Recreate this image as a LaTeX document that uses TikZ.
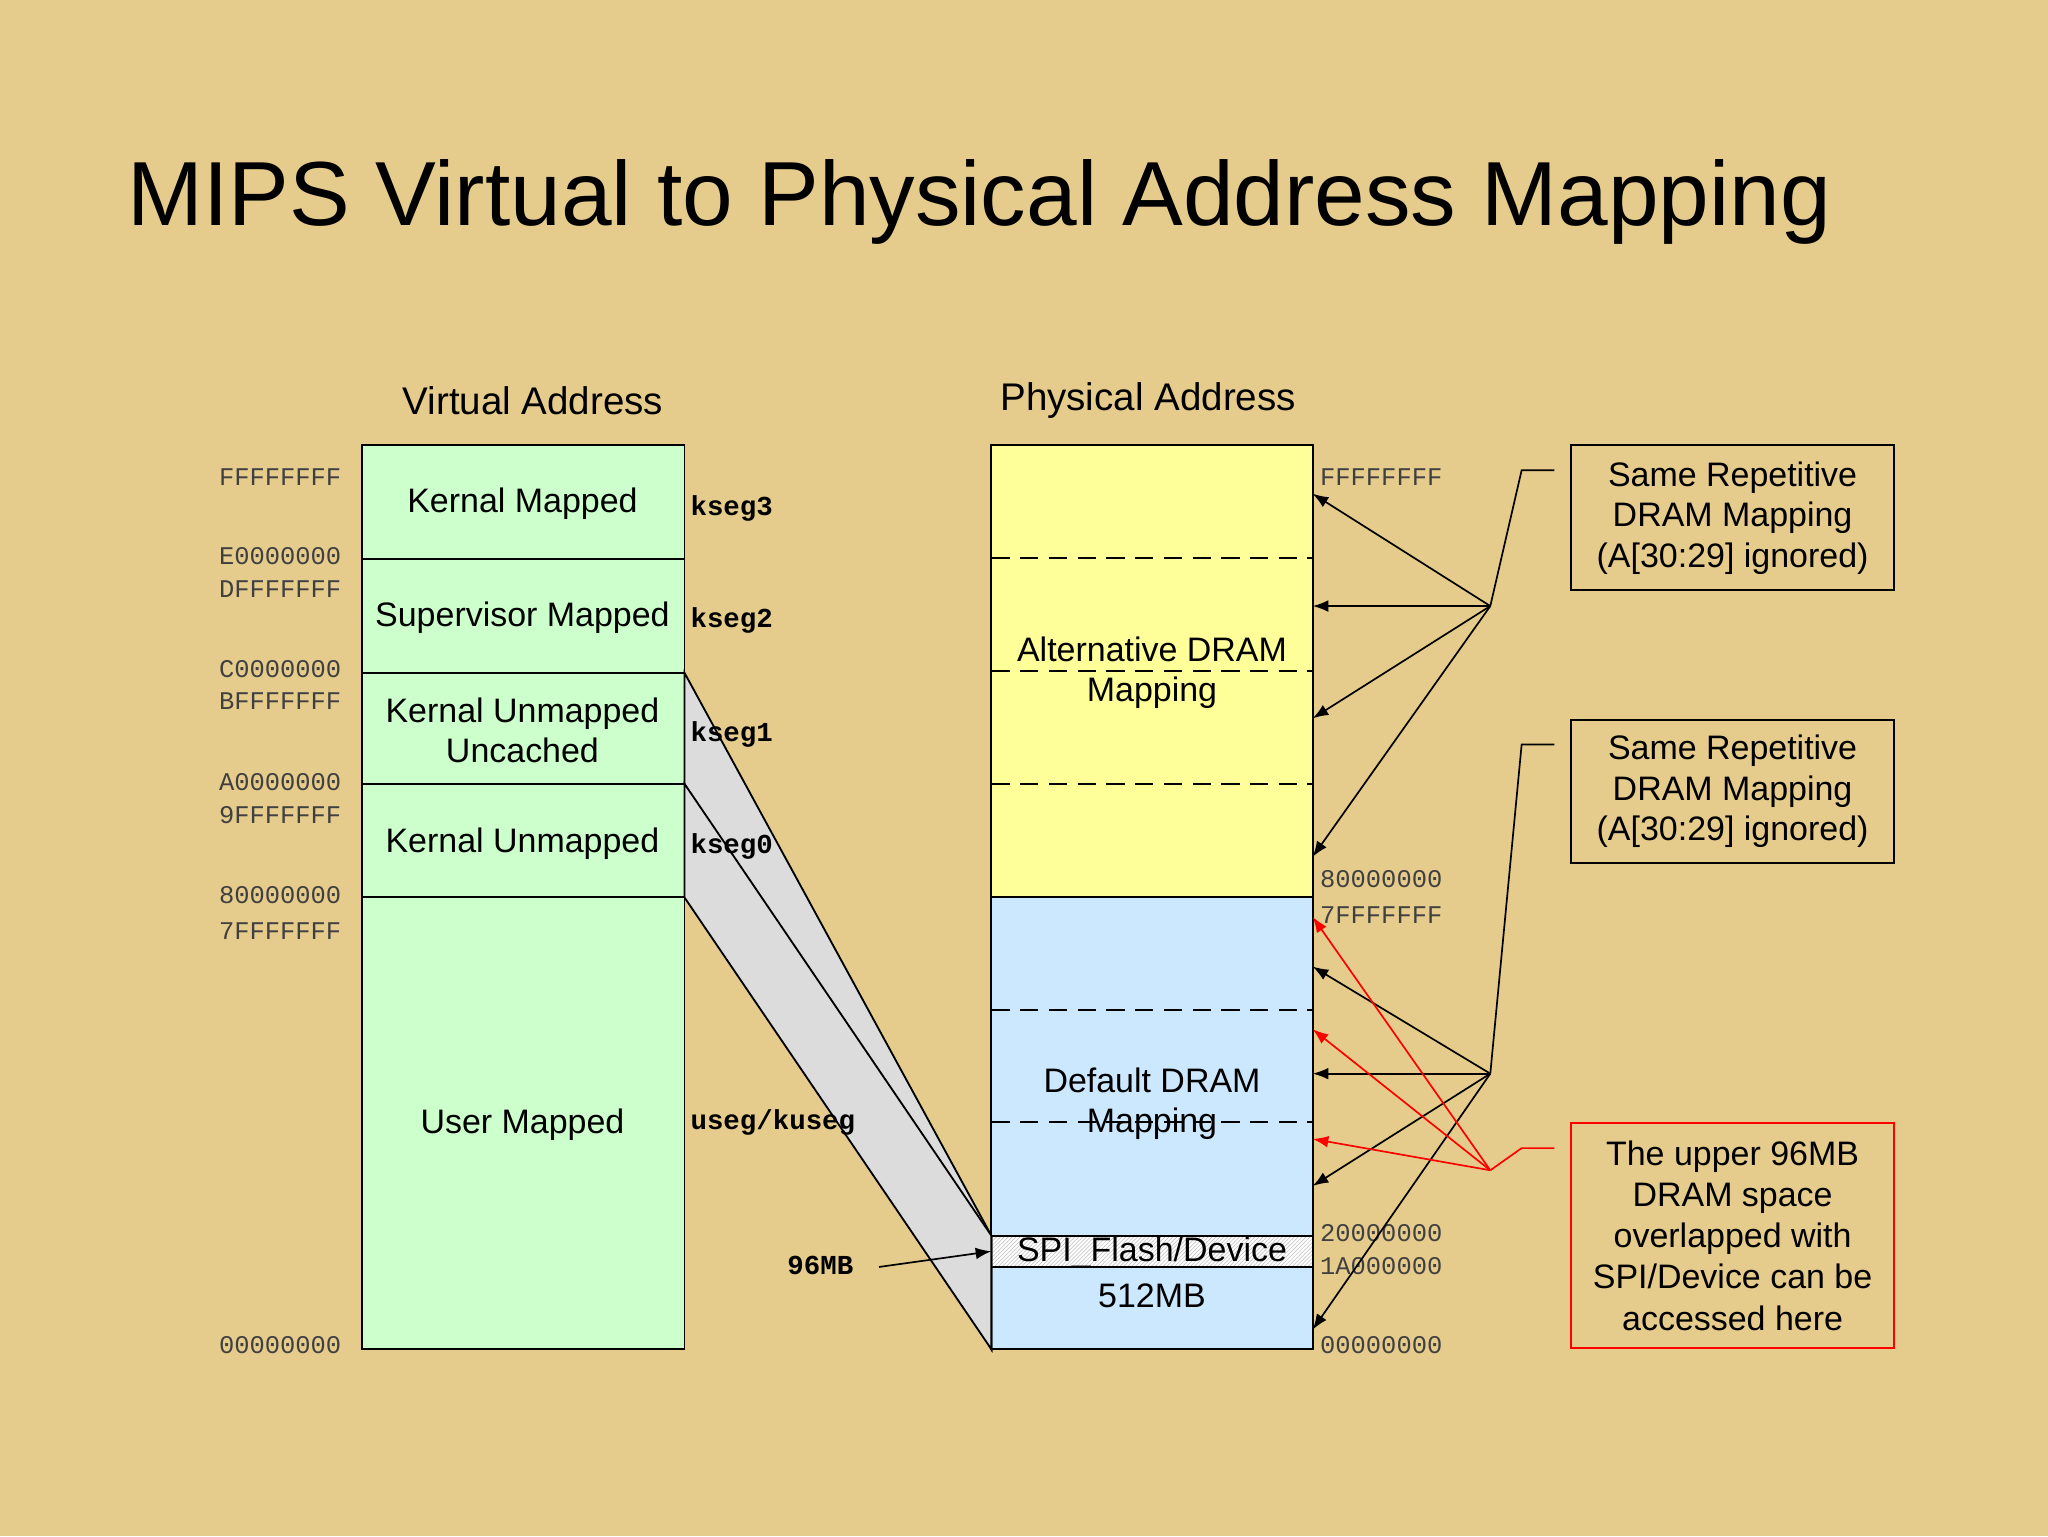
\documentclass[tikz,border=0pt]{standalone}
\usepackage{fontspec}
\setmainfont{Liberation Sans}
\setmonofont{Liberation Mono}
\usetikzlibrary{patterns,arrows.meta}
\definecolor{bg}{HTML}{E6CC8C}
\definecolor{vgreen}{HTML}{CCFFCC}
\definecolor{pyellow}{HTML}{FFFF99}
\definecolor{pblue}{HTML}{CCE8FF}
\definecolor{gband}{HTML}{DCDCDC}
\begin{document}
\begin{tikzpicture}[x=1pt,y=-1pt,line width=1.4pt,
  body/.style={font=\fontsize{26}{31}\selectfont,align=center},
  hexl/.style={font=\ttfamily\fontsize{19.5}{19.5}\selectfont,text=black!75,inner sep=0pt},
  segl/.style={font=\ttfamily\bfseries\fontsize{21}{21}\selectfont,anchor=west,inner sep=0pt},
  arr/.style={-{Latex[length=12pt,width=9pt]},line width=1.3pt},
  rarr/.style={-{Latex[length=12pt,width=9pt]},line width=1.3pt,red},
  dsh/.style={dash pattern=on 14pt off 8pt,line width=1.7pt}]
\fill[bg] (0,0) rectangle (1568,1176);
\useasboundingbox (0,0) rectangle (1568,1176);
\node[anchor=west,inner sep=0pt,font=\fontsize{69.7}{72}\selectfont] (title) at (97,155) {MIPS Virtual to Physical Address Mapping};
\node[body,font=\fontsize{29.5}{32}\selectfont] (vh) at (408,307) {Virtual Address};
\node[body,font=\fontsize{29.5}{32}\selectfont] (ph) at (879,307) {Physical Address};
% virtual column
\draw[fill=vgreen] (277,341) rectangle (524,1033);
\foreach \y in {428,515,600,687} \draw (277,\y) -- (524,\y);
\node[body] (v1) at (400,386) {Kernal Mapped};
\node[body] (v2) at (400,473) {Supervisor Mapped};
\node[body] (v3) at (400,559) {Kernal Unmapped\\Uncached};
\node[body] (v4) at (400,646) {Kernal Unmapped};
\node[body] (v5) at (400,861) {User Mapped};
% hex left
\foreach \y/\t in {365/FFFFFFFF,426/E0000000,451/DFFFFFFF,512/C0000000,537/BFFFFFFF,599/A0000000,624/9FFFFFFF,685/80000000,713/7FFFFFFF,1030/00000000}
  \node[hexl,anchor=east] at (262,\y) {\t};
% physical column
\fill[pyellow] (759,341) rectangle (1005,687);
\fill[pblue] (759,687) rectangle (1005,1033);
\fill[white] (759,946) rectangle (1005,970);
\fill[pattern=north east lines,pattern color=black!25] (759,946) rectangle (1005,970);
\foreach \y in {427,514,600,773,859} \draw[dsh] (759,\y) -- (1005,\y);
\draw (759,687) -- (1005,687);
\draw (759,946) -- (1005,946);
\draw (759,970) -- (1005,970);
\draw (759,341) rectangle (1005,1033);
\node[body] (alt) at (882,515) {Alternative DRAM\\Mapping};
\node[body] (def) at (882,845) {Default DRAM\\Mapping};
\node[body,inner sep=0pt] (spi) at (882,959) {SPI\_Flash/Device};
\node[body] (mb) at (882,992) {512MB};
% bands
\draw[fill=gband] (524,515) -- (759,946) -- (759,1033) -- (524,600) -- cycle;
\draw[fill=gband] (524,600) -- (759,946) -- (759,1033) -- (524,687) -- cycle;
\draw (524,515) -- (524,687);
% seg labels
\node[segl] at (528,389) {kseg3};
\node[segl] at (528,475) {kseg2};
\node[segl] at (528,562) {kseg1};
\node[segl] at (528,648) {kseg0};
\node[segl] at (528,859) {useg/kuseg};
\node[segl,anchor=east] (mb96) at (654,969) {96MB};
\coordinate (mbs) at (673,970);
\coordinate (mbe) at (759,958);
\draw[arr] (mbs) -- (mbe);
% hex right
\foreach \y/\t in {365/FFFFFFFF,673/80000000,701/7FFFFFFF,944/20000000,969/1A000000,1030/00000000}
  \node[hexl,anchor=west] at (1010,\y) {\t};
% boxes
\node[draw,body,minimum width=247pt,minimum height=111pt,line width=1.4pt] (b1) at (1326.5,396.5) {Same Repetitive\\DRAM Mapping\\(A[30:29] ignored)};
\node[draw,body,minimum width=247pt,minimum height=110pt,line width=1.4pt] (b2) at (1326.5,606) {Same Repetitive\\DRAM Mapping\\(A[30:29] ignored)};
\node[draw=red,body,minimum width=247pt,minimum height=172pt,line width=1.4pt,font=\fontsize{26}{31.5}\selectfont] (b3) at (1326.5,946) {The upper 96MB\\DRAM space\\overlapped with\\SPI/Device can be\\accessed here};
% fans
\coordinate (f1) at (1141,464);
\draw[line width=1.3pt] (1190,360) -- (1165,360) -- (f1);
\foreach \y in {378,464,550,656} \draw[arr] (f1) -- (1005,\y);
\coordinate (f2) at (1141,822);
\draw[line width=1.3pt] (1190,570) -- (1165,570) -- (f2);
\foreach \y in {740,822,908,1018} \draw[arr] (f2) -- (1005,\y);
\coordinate (f3) at (1141,896);
\draw[line width=1.3pt,red] (1190,879) -- (1165,879) -- (f3);
\foreach \y in {702,788,872} \draw[rarr] (f3) -- (1005,\y);
\end{tikzpicture}
\end{document}
